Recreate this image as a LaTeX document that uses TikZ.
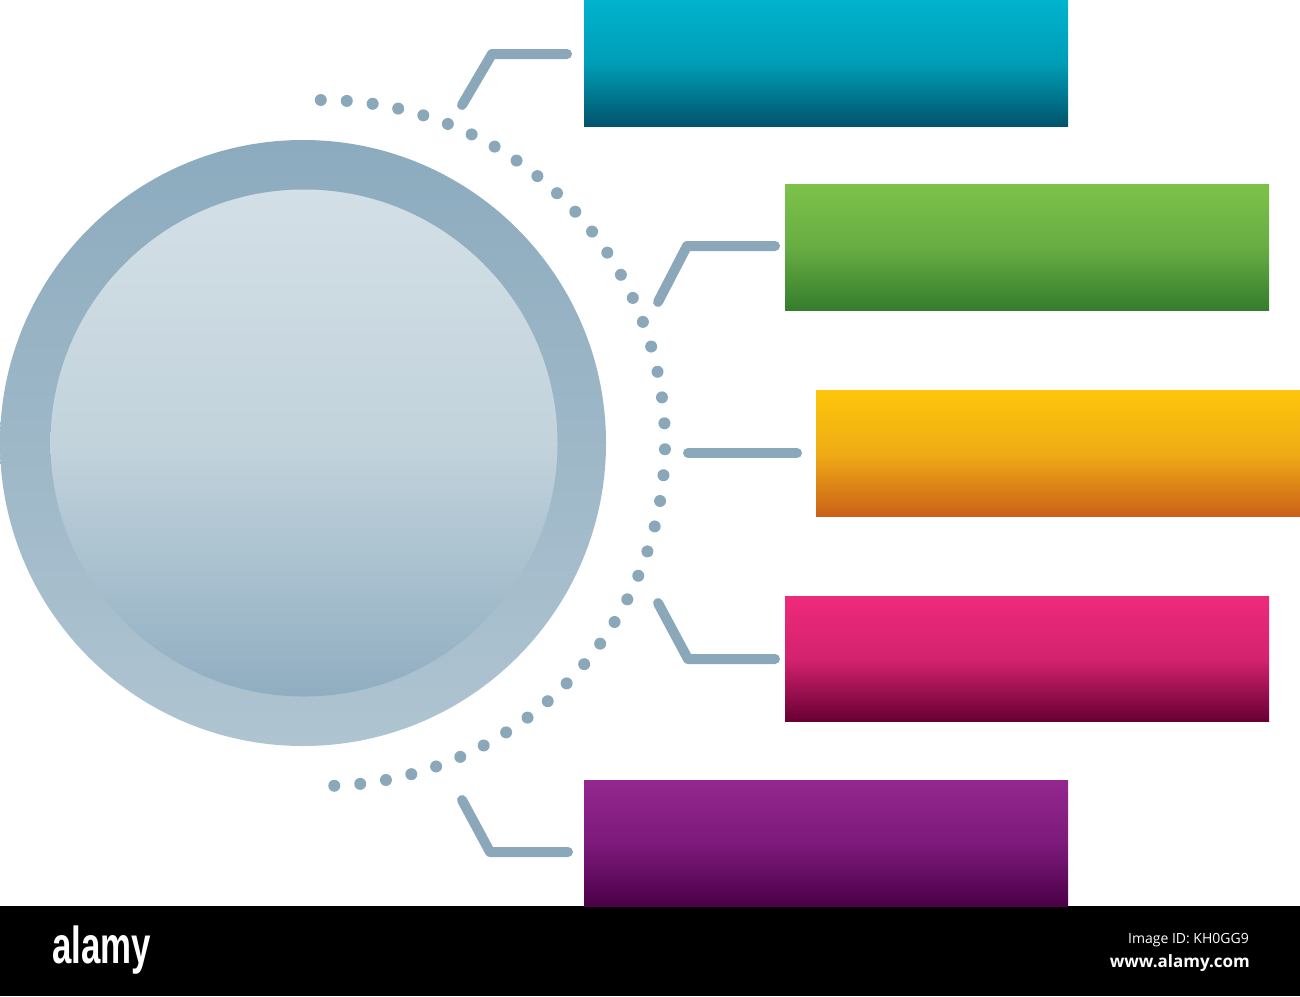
\documentclass[tikz,border=0pt]{standalone}
\usepackage{fontspec}
\setmainfont{Open Sans}
\newfontfamily\logofont[FakeStretch=0.67]{Liberation Sans}
\definecolor{linkc}{HTML}{8AA8BA}
\definecolor{ringtop}{HTML}{8CABBE}
\definecolor{ringbot}{HTML}{AFC4D1}
\definecolor{disctop}{HTML}{D3DFE6}
\definecolor{discmid}{HTML}{C2D3DC}
\definecolor{discbot}{HTML}{90AEC1}
\definecolor{bluetop}{HTML}{00B3CE}
\definecolor{bluemid}{HTML}{009DB7}
\definecolor{bluebot}{HTML}{00546B}
\definecolor{greentop}{HTML}{7CC24A}
\definecolor{greenmid}{HTML}{68AD42}
\definecolor{greenbot}{HTML}{347D2D}
\definecolor{yellowtop}{HTML}{FDC60A}
\definecolor{yellowmid}{HTML}{EFAC15}
\definecolor{yellowbot}{HTML}{CB6118}
\definecolor{pinktop}{HTML}{EE2A7B}
\definecolor{pinkmid}{HTML}{D4226E}
\definecolor{pinkbot}{HTML}{680033}
\definecolor{purpletop}{HTML}{93278F}
\definecolor{purplemid}{HTML}{7D1A7B}
\definecolor{purplebot}{HTML}{4B0047}
\begin{document}
\begin{tikzpicture}[x=1pt, y=-1pt,
  bar/.style={rectangle, minimum width=484pt, minimum height=126pt, inner sep=0pt},
  link/.style={draw=linkc, line width=10pt, line cap=round, line join=round}]
\useasboundingbox (0,0) rectangle (1300,996);
\fill[black] (0,906) rectangle (1300,996);
\node[circle, minimum size=606pt, inner sep=0pt, top color=ringtop, bottom color=ringbot] (ring) at (303,443){};
\node[circle, minimum size=507pt, inner sep=0pt, top color=disctop, bottom color=discbot, middle color=discmid] (disc) at (304,443){};
\coordinate (arc) at (322,443);
\foreach \i in {0,...,41}
  \fill[linkc, shift={(arc)}] ({-90.2+\i*4.345}:343) circle (6pt);
\node[bar, top color=bluetop, bottom color=bluebot, middle color=bluemid] (b1) at (826,63){};
\node[bar, top color=greentop, bottom color=greenbot, middle color=greenmid] (b2) at (1027,247){};
\node[bar, top color=yellowtop, bottom color=yellowbot, middle color=yellowmid] (b3) at (1058,453){};
\node[bar, minimum height=125pt, top color=pinktop, bottom color=pinkbot, middle color=pinkmid] (b4) at (1027,658.5){};
\node[bar, top color=purpletop, bottom color=purplebot, middle color=purplemid] (b5) at (826,843){};
\coordinate (s1) at (462,105);
\coordinate (k1) at (492,54);
\coordinate (e1) at (567,54);
\draw[link] (s1) -- (k1) -- (e1);
\coordinate (s2) at (658,302);
\coordinate (k2) at (687,246);
\coordinate (e2) at (775,246);
\draw[link] (s2) -- (k2) -- (e2);
\coordinate (s3) at (688,453);
\coordinate (e3) at (797,453);
\draw[link] (s3) -- (e3);
\coordinate (s4) at (658,603);
\coordinate (k4) at (688,659);
\coordinate (e4) at (775,659);
\draw[link] (s4) -- (k4) -- (e4);
\coordinate (s5) at (462,800);
\coordinate (k5) at (490,852);
\coordinate (e5) at (568,852);
\draw[link] (s5) -- (k5) -- (e5);
\node[text=white, font=\logofont\bfseries\fontsize{52}{52}\selectfont, anchor=base west, inner sep=0pt] (logo) at (52,963){alamy};
\node[text=white, font=\fontsize{14}{14}\selectfont, anchor=base east, inner sep=0pt] (imgid) at (1249,943){Image ID: KH0GG9};
\node[text=white, font=\bfseries\fontsize{17}{17}\selectfont, anchor=base east, inner sep=0pt] (site) at (1250,967){www.alamy.com};
\end{tikzpicture}
\end{document}
